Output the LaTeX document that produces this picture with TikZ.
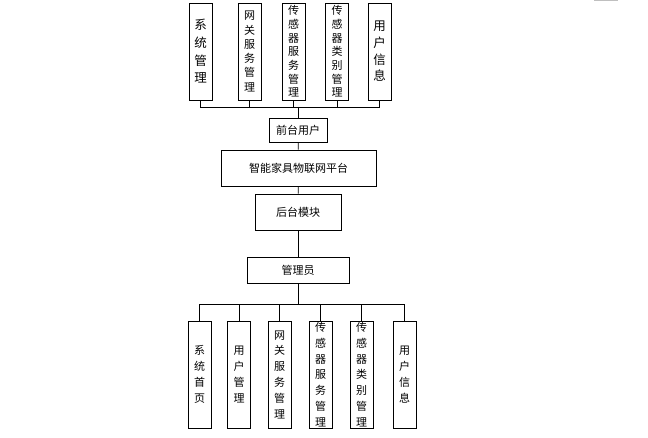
\documentclass[tikz,border=0pt]{standalone}
\usepackage{fontspec}
\newfontfamily\cjk{Noto Sans CJK SC}
\begin{document}
\begin{tikzpicture}[x=1pt,y=-1pt,
  box/.style={draw, fill=white, line width=0.8pt, inner sep=0pt,
    font=\cjk\fontsize{11}{12}\selectfont},
  vbox/.style={box, minimum width=23, align=center},
  topbox/.style={vbox, minimum height=97},
  botbox/.style={vbox, minimum height=107, font=\cjk\fontsize{11}{15.8}\selectfont},
  link/.style={line width=0.8pt}]
\useasboundingbox (0,0) rectangle (648,438);
\draw[gray!50, line width=1.2pt] (594,0.6) -- (618,0.6);
% front end
\node[topbox, font=\cjk\fontsize{12.5}{17.7}\selectfont] (t1) at (200.5,51.5) {系\\统\\管\\理};
\node[topbox, font=\cjk\fontsize{11}{14.3}\selectfont] (t2) at (249.5,51.5) {网\\关\\服\\务\\管\\理};
\node[topbox, font=\cjk\fontsize{11}{13.7}\selectfont] (t3) at (293.5,51.5) {传\\感\\器\\服\\务\\管\\理};
\node[topbox, font=\cjk\fontsize{11}{13.7}\selectfont] (t4) at (337,51.5) {传\\感\\器\\类\\别\\管\\理};
\node[topbox, font=\cjk\fontsize{12.5}{16.7}\selectfont] (t5) at (379.5,51.5) {用\\户\\信\\息};
\coordinate (topbus) at (298,107);
\node[box, minimum width=58, minimum height=24] (front) at (298,130) {前台用户};
% platform
\node[box, minimum width=155, minimum height=36] (platform) at (298.5,168) {智能家具物联网平台};
% back end
\node[box, minimum width=86, minimum height=36] (backend) at (298,212) {后台模块};
\node[box, minimum width=102, minimum height=26] (admin) at (298,270) {管理员};
\coordinate (botbus) at (298,304);
\node[botbox] (b1) at (199.5,374.5) {系\\统\\首\\页};
\node[botbox] (b2) at (239,374.5) {用\\户\\管\\理};
\node[botbox] (b3) at (279.5,374.5) {网\\关\\服\\务\\管\\理};
\node[botbox] (b4) at (320.5,374.5) {传\\感\\器\\服\\务\\管\\理};
\node[botbox] (b5) at (361.5,374.5) {传\\感\\器\\类\\别\\管\\理};
\node[botbox] (b6) at (404.5,374.5) {用\\户\\信\\息};
% connectors
\foreach \n in {t1,t2,t3,t4,t5}
  \draw[link] (\n.south) |- (topbus);
\draw[link] (topbus) -- (front.north);
\draw[link] (front) -- (platform);
\draw[link] (platform) -- (backend);
\draw[link] (backend) -- (admin);
\draw[link] (admin.south) -- (botbus);
\foreach \n in {b1,b2,b3,b4,b5,b6}
  \draw[link] (botbus) -| (\n.north);
\end{tikzpicture}
\end{document}
